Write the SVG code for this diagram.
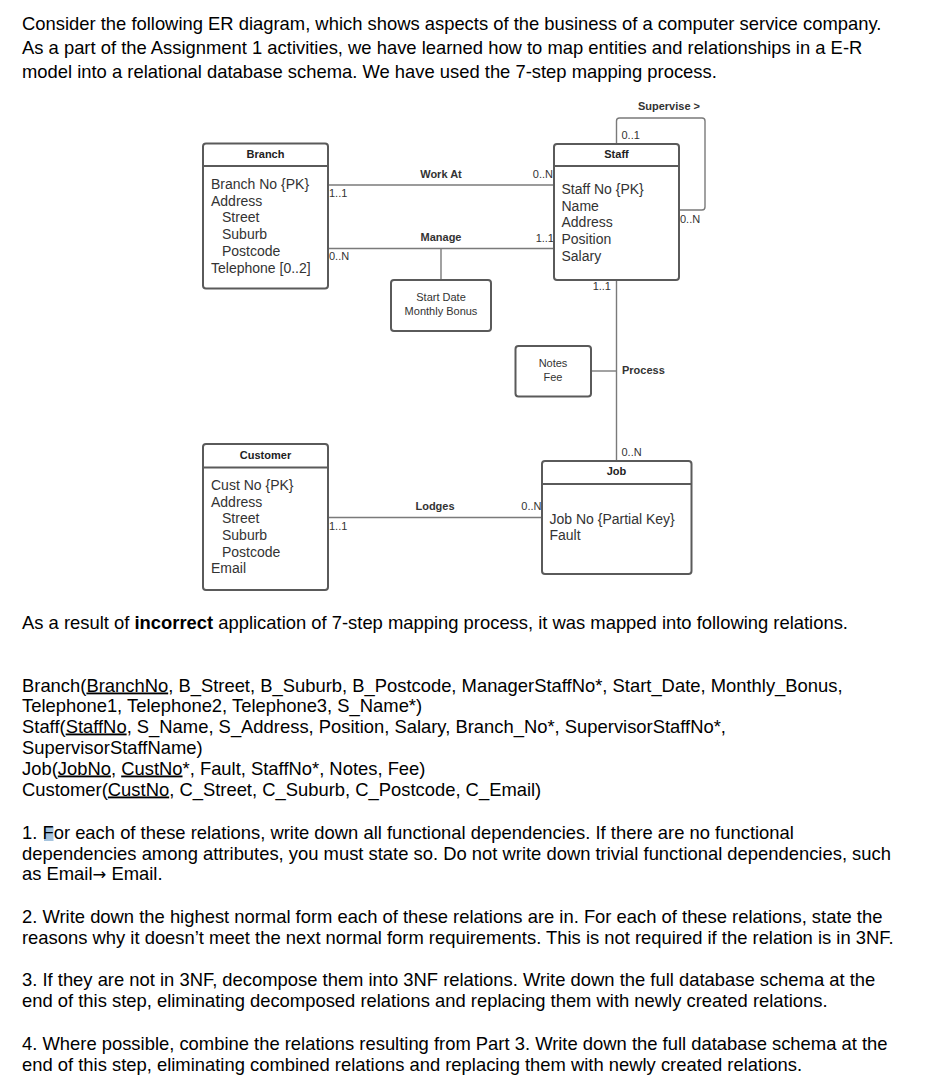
<svg xmlns="http://www.w3.org/2000/svg" width="951" height="1079" viewBox="0 0 951 1079">
<style>
.body{font-family:"Liberation Sans",Arial,sans-serif;font-size:18.4px;fill:#000}
.ent{fill:#fff;stroke:#5a5a5a;stroke-width:2}
.div{stroke:#5a5a5a;stroke-width:2}
.title{font-family:"Liberation Sans",Arial,sans-serif;font-size:11px;font-weight:bold;fill:#222;text-anchor:middle}
.attr{font-family:"Liberation Sans",Arial,sans-serif;font-size:14px;fill:#333}
.rel{font-family:"Liberation Sans",Arial,sans-serif;font-size:11px;font-weight:bold;fill:#333}
.card{font-family:"Liberation Sans",Arial,sans-serif;font-size:11px;fill:#333}
.small{font-family:"Liberation Sans",Arial,sans-serif;font-size:11px;fill:#333;text-anchor:middle}
.ln{fill:none;stroke:#7a7a7a;stroke-width:1.4}
.u{text-decoration:underline}
</style>
<rect width="951" height="1079" fill="#fff"/>

<g id="intro">
<text class="body" x="22" y="29.5">Consider the following ER diagram, which shows aspects of the business of a computer service company.</text>
<text class="body" x="22" y="53.5">As a part of the Assignment 1 activities, we have learned how to map entities and relationships in a E-R</text>
<text class="body" x="22" y="77.5">model into a relational database schema. We have used the 7-step mapping process.</text>
</g>

<g id="connectors">
<path class="ln" d="M328,185 H554"/>
<path class="ln" d="M328,248.5 H554"/>
<path class="ln" d="M441,248.5 V280"/>
<path class="ln" d="M616.5,144 V121 Q616.5,118 619.5,118 H702 Q705,118 705,121 V207 Q705,210 702,210 H679"/>
<path class="ln" d="M616.5,280 V461"/>
<path class="ln" d="M591,371 H616.5"/>
<path class="ln" d="M328,517.5 H542"/>
<text class="rel" x="441" y="178" text-anchor="middle">Work At</text>
<text class="rel" x="441" y="241" text-anchor="middle">Manage</text>
<text class="rel" x="700" y="110" text-anchor="end">Supervise &gt;</text>
<text class="rel" x="622" y="373.5">Process</text>
<text class="rel" x="435" y="509.5" text-anchor="middle">Lodges</text>
<text class="card" x="329" y="197">1..1</text>
<text class="card" x="329" y="259.5">0..N</text>
<text class="card" x="553" y="178" text-anchor="end">0..N</text>
<text class="card" x="554" y="242" text-anchor="end">1..1</text>
<text class="card" x="621.5" y="138.5">0..1</text>
<text class="card" x="680" y="223">0..N</text>
<text class="card" x="611" y="290" text-anchor="end">1..1</text>
<text class="card" x="621.5" y="456">0..N</text>
<text class="card" x="329" y="529.5">1..1</text>
<text class="card" x="541.5" y="510" text-anchor="end">0..N</text>
</g>

<g id="branch">
<rect class="ent" x="203" y="143.5" width="125" height="145" rx="3"/>
<line class="div" x1="203" y1="166" x2="328" y2="166"/>
<text class="title" x="265.5" y="158">Branch</text>
<text class="attr" x="211" y="189">Branch No {PK}</text>
<text class="attr" x="211" y="205.7">Address</text>
<text class="attr" x="222" y="222.3">Street</text>
<text class="attr" x="222" y="239">Suburb</text>
<text class="attr" x="222" y="255.7">Postcode</text>
<text class="attr" x="211" y="272.5">Telephone [0..2]</text>
</g>

<g id="staff">
<rect class="ent" x="554" y="144" width="125" height="136" rx="3"/>
<line class="div" x1="554" y1="166" x2="679" y2="166"/>
<text class="title" x="616.5" y="158">Staff</text>
<text class="attr" x="561.5" y="194">Staff No {PK}</text>
<text class="attr" x="561.5" y="210.7">Name</text>
<text class="attr" x="561.5" y="227.3">Address</text>
<text class="attr" x="561.5" y="244">Position</text>
<text class="attr" x="561.5" y="260.7">Salary</text>
</g>

<g id="manage-attrs">
<rect class="ent" x="391" y="280" width="100" height="51" rx="3"/>
<text class="small" x="441" y="301">Start Date</text>
<text class="small" x="441" y="314.5">Monthly Bonus</text>
</g>

<g id="process-attrs">
<rect class="ent" x="515.5" y="346" width="75.5" height="50.5" rx="3"/>
<text class="small" x="553" y="367">Notes</text>
<text class="small" x="553" y="380.5">Fee</text>
</g>

<g id="customer">
<rect class="ent" x="203" y="444" width="125" height="146" rx="3"/>
<line class="div" x1="203" y1="467.5" x2="328" y2="467.5"/>
<text class="title" x="265.5" y="458.5">Customer</text>
<text class="attr" x="211" y="490">Cust No {PK}</text>
<text class="attr" x="211" y="506.7">Address</text>
<text class="attr" x="222" y="523.3">Street</text>
<text class="attr" x="222" y="540">Suburb</text>
<text class="attr" x="222" y="556.7">Postcode</text>
<text class="attr" x="211" y="573.3">Email</text>
</g>

<g id="job">
<rect class="ent" x="542" y="461" width="149.5" height="113" rx="3"/>
<line class="div" x1="542" y1="484" x2="691.5" y2="484"/>
<text class="title" x="616.5" y="475">Job</text>
<text class="attr" x="549.5" y="523.5">Job No {Partial Key}</text>
<text class="attr" x="549.5" y="540">Fault</text>
</g>

<g id="relations">
<text class="body" x="22" y="628.5">As a result of <tspan font-weight="bold">incorrect</tspan> application of 7-step mapping process, it was mapped into following relations.</text>
<text class="body" x="22" y="691.5">Branch(<tspan class="u">BranchNo</tspan>, B_Street, B_Suburb, B_Postcode, ManagerStaffNo*, Start_Date, Monthly_Bonus,</text>
<text class="body" x="22" y="712">Telephone1, Telephone2, Telephone3, S_Name*)</text>
<text class="body" x="22" y="732.5">Staff(<tspan class="u">StaffNo</tspan>, S_Name, S_Address, Position, Salary, Branch_No*, SupervisorStaffNo*,</text>
<text class="body" x="22" y="753.5">SupervisorStaffName)</text>
<text class="body" x="22" y="774.5">Job(<tspan class="u">JobNo</tspan>, <tspan class="u">CustNo</tspan>*, Fault, StaffNo*, Notes, Fee)</text>
<text class="body" x="22" y="795.5">Customer(<tspan class="u">CustNo</tspan>, C_Street, C_Suburb, C_Postcode, C_Email)</text>
</g>

<g id="questions">
<rect x="44" y="827" width="9.5" height="14" fill="#a6c4de"/>
<text class="body" x="22" y="839">1. For each of these relations, write down all functional dependencies. If there are no functional</text>
<text class="body" x="22" y="859.5">dependencies among attributes, you must state so. Do not write down trivial functional dependencies, such</text>
<text class="body" x="22" y="880">as Email<tspan font-family="'DejaVu Sans',sans-serif" font-size="16.5">→</tspan> Email.</text>
<text class="body" x="22" y="922.5">2. Write down the highest normal form each of these relations are in. For each of these relations, state the</text>
<text class="body" x="22" y="943.5">reasons why it doesn’t meet the next normal form requirements. This is not required if the relation is in 3NF.</text>
<text class="body" x="22" y="985.5">3. If they are not in 3NF, decompose them into 3NF relations. Write down the full database schema at the</text>
<text class="body" x="22" y="1006.5">end of this step, eliminating decomposed relations and replacing them with newly created relations.</text>
<text class="body" x="22" y="1049.5">4. Where possible, combine the relations resulting from Part 3. Write down the full database schema at the</text>
<text class="body" x="22" y="1070.5">end of this step, eliminating combined relations and replacing them with newly created relations.</text>
</g>
</svg>
